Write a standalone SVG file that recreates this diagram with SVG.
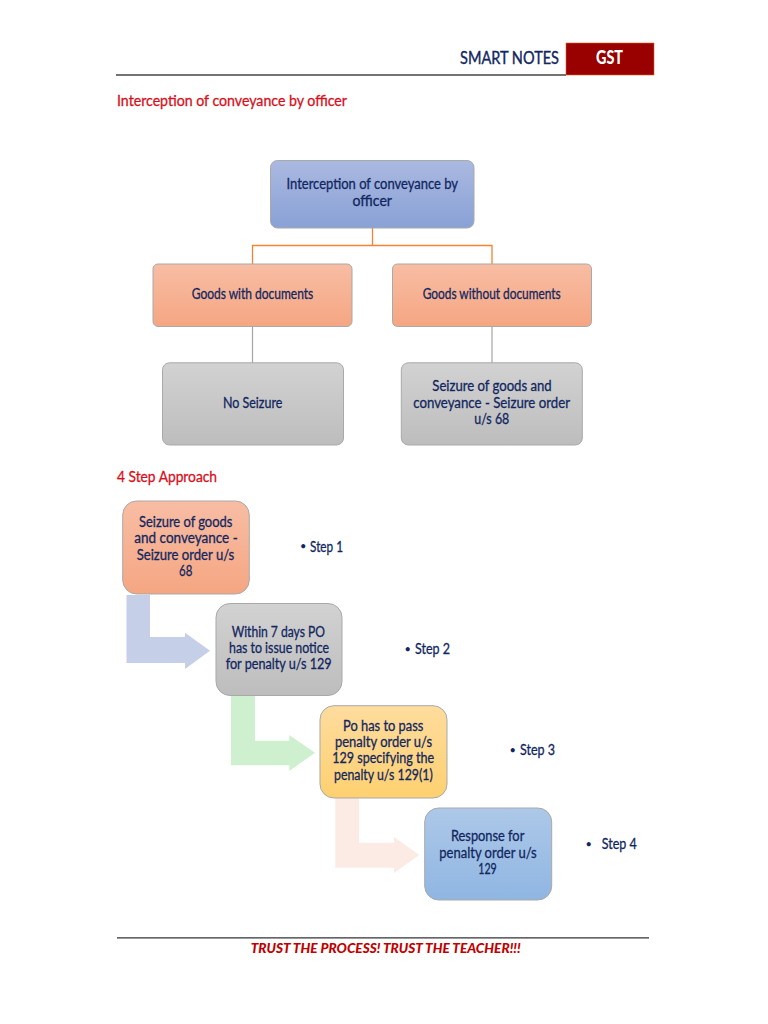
<svg xmlns="http://www.w3.org/2000/svg" width="768" height="1024" viewBox="0 0 768 1024">
<style>
text{font-family:"Lato","Noto Sans",sans-serif}
.t{font-size:14.5px;fill:#12275f;stroke:#12275f;stroke-width:.3px}
.b{font-size:11px;fill:#12275f}
.h{font-size:15.5px;fill:#d5101c;stroke:#d5101c;stroke-width:.3px}
.n{stroke:#a9a9a9;stroke-width:1}
.or{fill:none;stroke:#f58233;stroke-width:1.3}
.gr{fill:none;stroke:#a5a5a5;stroke-width:1.2}
</style>
<defs>
<linearGradient id="blue" x1="0" y1="0" x2="0" y2="1"><stop offset="0" stop-color="#aab9e0"/><stop offset="1" stop-color="#89a1d6"/></linearGradient>
<linearGradient id="orange" x1="0" y1="0" x2="0" y2="1"><stop offset="0" stop-color="#f8bda4"/><stop offset="1" stop-color="#f5a682"/></linearGradient>
<linearGradient id="gray" x1="0" y1="0" x2="0" y2="1"><stop offset="0" stop-color="#d2d2d2"/><stop offset="1" stop-color="#bdbdbd"/></linearGradient>
<linearGradient id="yellow" x1="0" y1="0" x2="0" y2="1"><stop offset="0" stop-color="#fedc9e"/><stop offset="1" stop-color="#fed070"/></linearGradient>
<linearGradient id="sky" x1="0" y1="0" x2="0" y2="1"><stop offset="0" stop-color="#adc8e8"/><stop offset="1" stop-color="#8fb6e2"/></linearGradient>
</defs>

<g id="header">
<line x1="116" y1="75" x2="566" y2="75" stroke="#444" stroke-width="1.5"/>
<rect x="566" y="43" width="88" height="32" fill="#990000" stroke="#d9622b" stroke-width="0.6"/>
<text x="460" y="64" font-size="18" fill="#12275f" stroke="#12275f" stroke-width=".4" textLength="99" lengthAdjust="spacingAndGlyphs">SMART NOTES</text>
<text x="596" y="64" font-size="18" font-weight="900" fill="#fff" textLength="27" lengthAdjust="spacingAndGlyphs">GST</text>
<text class="h" x="117" y="106" textLength="230" lengthAdjust="spacingAndGlyphs">Interception of conveyance by officer</text>
<text class="h" x="117" y="482" textLength="100" lengthAdjust="spacingAndGlyphs">4 Step Approach</text>
</g>

<g id="connectors">
<path class="or" d="M372.500 228V245.500M252.500 264V245.500H492V264"/>
<path class="gr" d="M252.500 327V363"/>
<path class="gr" d="M492 327V363"/>
<path fill="#c5cfe8" d="M126.500 595H150V637H185V632.700L210 650.700L185 669V663H126.500Z"/>
<path fill="#cff0cf" d="M231 695H255V740.700H289.300V735L315 752.700L289.300 771V765.300H231Z"/>
<path fill="#fcebe5" d="M335.300 798H359V842.700H394V837L419.300 855L394 873V867.700H335.300Z"/>
</g>

<g id="node-top">
<rect class="n" x="270.500" y="160.500" width="203.500" height="67.500" rx="7" fill="url(#blue)"/>
<text class="t" x="286.500" y="189" textLength="171.500" lengthAdjust="spacingAndGlyphs">Interception of conveyance by</text>
<text class="t" x="352.500" y="205.500" textLength="39.500" lengthAdjust="spacingAndGlyphs">officer</text>
</g>
<g id="node-with-docs">
<rect class="n" x="153" y="264" width="199" height="62.500" rx="5" fill="url(#orange)"/>
<text class="t" x="191.700" y="299" textLength="121.600" lengthAdjust="spacingAndGlyphs">Goods with documents</text>
</g>
<g id="node-without-docs">
<rect class="n" x="392.500" y="264" width="199" height="62.500" rx="5" fill="url(#orange)"/>
<text class="t" x="422.700" y="299" textLength="138" lengthAdjust="spacingAndGlyphs">Goods without documents</text>
</g>
<g id="node-no-seizure">
<rect class="n" x="162.500" y="362.800" width="181" height="82.200" rx="7" fill="url(#gray)"/>
<text class="t" x="223" y="407.700" textLength="59.300" lengthAdjust="spacingAndGlyphs">No Seizure</text>
</g>
<g id="node-seizure">
<rect class="n" x="401.300" y="362.800" width="181" height="82.200" rx="7" fill="url(#gray)"/>
<text class="t" x="432.300" y="391" textLength="119.400" lengthAdjust="spacingAndGlyphs">Seizure of goods and</text>
<text class="t" x="413.300" y="407.700" textLength="156.700" lengthAdjust="spacingAndGlyphs">conveyance - Seizure order</text>
<text class="t" x="474.300" y="424" textLength="35" lengthAdjust="spacingAndGlyphs">u/s 68</text>
</g>

<g id="step-1">
<rect class="n" x="122.700" y="501" width="126.600" height="93" rx="14" fill="url(#orange)"/>
<text class="t" x="139" y="526.700" textLength="93.300" lengthAdjust="spacingAndGlyphs">Seizure of goods</text>
<text class="t" x="134.300" y="543.300" textLength="103.400" lengthAdjust="spacingAndGlyphs">and conveyance -</text>
<text class="t" x="136.700" y="560" textLength="97.600" lengthAdjust="spacingAndGlyphs">Seizure order u/s</text>
<text class="t" x="179" y="576" textLength="13.300" lengthAdjust="spacingAndGlyphs">68</text>
<text class="b" x="300" y="550">•</text>
<text class="t" x="310" y="551.700" textLength="33" lengthAdjust="spacingAndGlyphs">Step 1</text>
</g>
<g id="step-2">
<rect class="n" x="216" y="603.500" width="126" height="92" rx="14" fill="url(#gray)"/>
<text class="t" x="231.700" y="637.300" textLength="93.300" lengthAdjust="spacingAndGlyphs">Within 7 days PO</text>
<text class="t" x="229" y="653.300" textLength="100" lengthAdjust="spacingAndGlyphs">has to issue notice</text>
<text class="t" x="225.700" y="669.300" textLength="106" lengthAdjust="spacingAndGlyphs">for penalty u/s 129</text>
<text class="b" x="404.500" y="652.500">•</text>
<text class="t" x="415" y="654" textLength="35" lengthAdjust="spacingAndGlyphs">Step 2</text>
</g>
<g id="step-3">
<rect class="n" x="320" y="705.700" width="127" height="92.300" rx="14" fill="url(#yellow)"/>
<text class="t" x="343" y="731" textLength="80.300" lengthAdjust="spacingAndGlyphs">Po has to pass</text>
<text class="t" x="335" y="747.300" textLength="97" lengthAdjust="spacingAndGlyphs">penalty order u/s</text>
<text class="t" x="332.300" y="763.300" textLength="101.700" lengthAdjust="spacingAndGlyphs">129 specifying the</text>
<text class="t" x="334" y="780" textLength="98.700" lengthAdjust="spacingAndGlyphs">penalty u/s 129(1)</text>
<text class="b" x="509.500" y="753.500">•</text>
<text class="t" x="520" y="755" textLength="35" lengthAdjust="spacingAndGlyphs">Step 3</text>
</g>
<g id="step-4">
<rect class="n" x="424.700" y="808" width="127" height="92" rx="14" fill="url(#sky)"/>
<text class="t" x="451" y="841" textLength="73.300" lengthAdjust="spacingAndGlyphs">Response for</text>
<text class="t" x="439.300" y="857.700" textLength="97.400" lengthAdjust="spacingAndGlyphs">penalty order u/s</text>
<text class="t" x="478.300" y="873.700" textLength="18.400" lengthAdjust="spacingAndGlyphs">129</text>
<text class="b" x="585.500" y="848">•</text>
<text class="t" x="601.700" y="849.300" textLength="35" lengthAdjust="spacingAndGlyphs">Step 4</text>
</g>

<g id="footer">
<line x1="117" y1="937.800" x2="649" y2="937.800" stroke="#333" stroke-width="1.2"/>
<text x="250.700" y="953.300" font-size="14" font-weight="900" font-style="italic" fill="#c00000" textLength="270" lengthAdjust="spacingAndGlyphs">TRUST THE PROCESS! TRUST THE TEACHER!!!</text>
</g>
</svg>
